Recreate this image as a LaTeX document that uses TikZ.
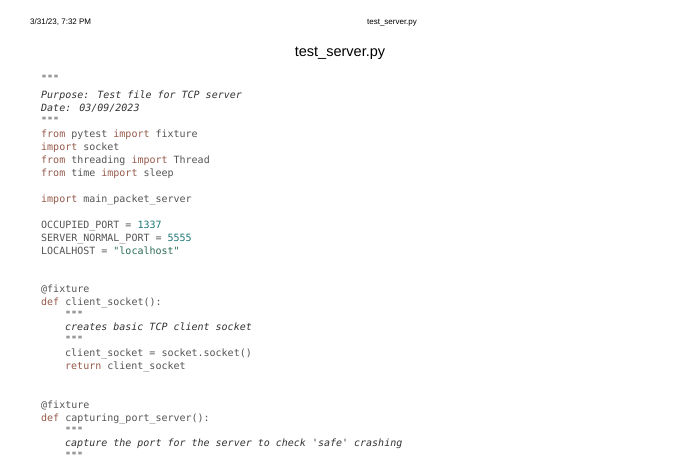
\documentclass[tikz,border=0pt]{standalone}
\usepackage{fontspec}
\setmainfont{Liberation Sans}
\newfontfamily\codefont{DejaVu Sans Mono}
\usetikzlibrary{positioning}
\definecolor{kw}{HTML}{955A4A}
\definecolor{nm}{HTML}{555555}
\definecolor{num}{HTML}{1E7878}
\definecolor{str}{HTML}{2A6B55}
\definecolor{doc}{HTML}{333333}
\newcommand{\K}[1]{\textcolor{kw}{#1}}
\newcommand{\N}[1]{\textcolor{num}{#1}}
\newcommand{\St}[1]{\textcolor{str}{#1}}
\newcommand{\D}[1]{\textcolor{doc}{\itshape #1}}
\begin{document}
\begin{tikzpicture}[x=1pt,y=-1pt,
  code/.style={anchor=base west,inner sep=0pt,font=\codefont\fontsize{10}{12}\selectfont,text=nm}]
\useasboundingbox[fill=white] (0,0) rectangle (680,459);
\node[anchor=base west,inner sep=0pt,font=\fontsize{8}{10}\selectfont] (date) at (30,24) {3/31/23, 7:32 PM};
\node[anchor=base,inner sep=0pt,font=\fontsize{8}{10}\selectfont] (hdr) at (392,24) {test\_server.py};
\node[anchor=base,inner sep=0pt,font=\fontsize{14.5}{16}\selectfont] (title) at (340,56) {test\_server.py};
\node[code] (l1) at (41,82) {\D{"""}};
\node[code] (l2) at (41,98) {\D{Purpose: Test file for TCP server}};
\node[code] (l3) at (41,111) {\D{Date: 03/09/2023}};
\node[code] (l4) at (41,124) {\D{"""}};
\node[code] (l5) at (41,137) {\K{from} pytest \K{import} fixture};
\node[code] (l6) at (41,150) {\K{import} socket};
\node[code] (l7) at (41,163) {\K{from} threading \K{import} Thread};
\node[code] (l8) at (41,176) {\K{from} time \K{import} sleep};
\node[code] (l9) at (41,202) {\K{import} main\_packet\_server};
\node[code] (l10) at (41,228) {OCCUPIED\_PORT = \N{1337}};
\node[code] (l11) at (41,241) {SERVER\_NORMAL\_PORT = \N{5555}};
\node[code] (l12) at (41,254) {LOCALHOST = \St{"localhost"}};
\node[code] (l13) at (41,292) {@fixture};
\node[code] (l14) at (41,305) {\K{def} client\_socket():};
\node[code] (l15) at (65,318) {\D{"""}};
\node[code] (l16) at (65,330) {\D{creates basic TCP client socket}};
\node[code] (l17) at (65,343) {\D{"""}};
\node[code] (l18) at (65,356) {client\_socket = socket.socket()};
\node[code] (l19) at (65,369) {\K{return} client\_socket};
\node[code] (l20) at (41,408) {@fixture};
\node[code] (l21) at (41,421) {\K{def} capturing\_port\_server():};
\node[code] (l22) at (65,434) {\D{"""}};
\node[code] (l23) at (65,446) {\D{capture the port for the server to check 'safe' crashing}};
\node[code] (l24) at (65,459) {\D{"""}};
\end{tikzpicture}
\end{document}
